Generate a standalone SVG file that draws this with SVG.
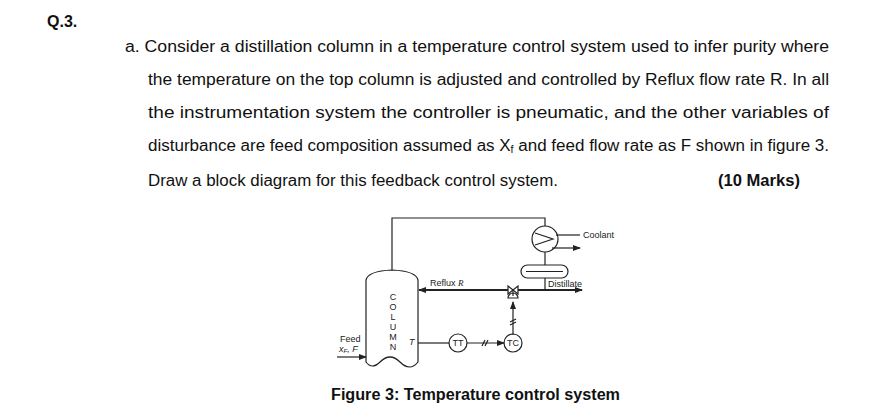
<svg xmlns="http://www.w3.org/2000/svg" width="887" height="413" viewBox="0 0 887 413">
<style>
.t{font-family:"Liberation Sans",Arial,sans-serif;font-size:16px;fill:#111}
.b{font-weight:bold}
.s{font-family:"Liberation Sans",Arial,sans-serif;font-size:9px;fill:#222}
.ln{stroke:#222;stroke-width:1.2;fill:none}
.thk{stroke:#222;stroke-width:2;fill:none}
</style>
<defs><marker id="a" markerWidth="8" markerHeight="6" refX="7" refY="3" orient="auto" markerUnits="userSpaceOnUse"><path d="M0,0L8,3L0,6z" fill="#222"/></marker></defs>
<rect width="887" height="413" fill="#fff"/>
<text class="t b" x="47" y="27">Q.3.</text>
<text class="t" x="125" y="52" textLength="704" lengthAdjust="spacingAndGlyphs">a. Consider a distillation column in a temperature control system used to infer purity where</text>
<text class="t" x="148" y="85" textLength="681" lengthAdjust="spacingAndGlyphs">the temperature on the top column is adjusted and controlled by Reflux flow rate R. In all</text>
<text class="t" x="148" y="118" textLength="681" lengthAdjust="spacingAndGlyphs">the instrumentation system the controller is pneumatic, and the other variables of</text>
<text class="t" x="148" y="151" textLength="681" lengthAdjust="spacingAndGlyphs">disturbance are feed composition assumed as X<tspan font-size="10" dy="2">f</tspan><tspan dy="-2"> and feed flow rate as F shown in figure 3.</tspan></text>
<text class="t" x="148" y="186" textLength="410" lengthAdjust="spacingAndGlyphs">Draw a block diagram for this feedback control system.</text>
<text class="t b" x="718" y="186" textLength="82" lengthAdjust="spacingAndGlyphs">(10 Marks)</text>
<g id="connectors">
<path class="ln" d="M392,270V218H545V226"/>
<path class="ln" d="M545,252V265M545,278V290"/>
<path class="ln" d="M556,235H580"/>
<path class="ln" d="M552,248H580" marker-end="url(#a)"/>
<path class="thk" d="M508,290H419" marker-end="url(#a)"/>
<path class="thk" d="M518,290H582" marker-end="url(#a)"/>
<path class="ln" d="M418,343H449"/>
<path class="ln" d="M467,343H504" marker-end="url(#a)"/>
<path class="ln" d="M482,346l3,-6M485,346l3,-6"/>
<path class="ln" d="M513,335V302" marker-end="url(#a)"/>
<path class="ln" d="M510,322l6,-3M510,325l6,-3"/>
<path class="ln" d="M337,357H366" marker-end="url(#a)"/>
</g>
<g id="column">
<path class="ln" d="M366,280Q368,271 392,270Q416,271 418,280V362Q410,372 400,362Q390,352 380,362Q372,370 366,362Z"/>
<g class="s" text-anchor="middle"><text x="393" y="300">C</text><text x="393" y="310">O</text><text x="393" y="320">L</text><text x="393" y="330">U</text><text x="393" y="340">M</text><text x="393" y="350">N</text></g>
<text class="s" x="409" y="345" font-style="italic" font-family="Liberation Serif">T</text>
</g>
<g id="condenser"><circle class="ln" cx="545" cy="239" r="13"/><path class="ln" d="M535,233L553,239L535,245"/></g>
<g id="drum"><rect class="ln" x="521" y="265" width="47" height="13" rx="6.5"/><path class="ln" d="M526,271.5H563"/></g>
<g id="valve"><path class="ln" d="M508,286L518,294V286L508,294Z"/><path class="ln" d="M513,290V296M508,298A5,5 0 0 1 518,298Z"/></g>
<g id="TT"><circle class="ln" cx="458" cy="343" r="9" fill="#fff"/><text class="s" x="458" y="346" text-anchor="middle">TT</text></g>
<g id="TC"><circle class="ln" cx="513" cy="343" r="9" fill="#fff"/><text class="s" x="513" y="346" text-anchor="middle">TC</text></g>
<text class="s" x="583" y="238">Coolant</text>
<text class="s" x="430" y="286">Reflux <tspan font-style="italic" font-family="Liberation Serif">R</tspan></text>
<text class="s" x="548" y="287">Distillate</text>
<text class="s" x="340" y="342">Feed</text>
<text class="s" x="339" y="352" font-style="italic" font-family="Liberation Serif">x<tspan font-size="6" dy="1">F</tspan><tspan dy="-1">, F</tspan></text>
<text class="t b" x="331" y="400" textLength="289" lengthAdjust="spacingAndGlyphs">Figure 3: Temperature control system</text>
</svg>
